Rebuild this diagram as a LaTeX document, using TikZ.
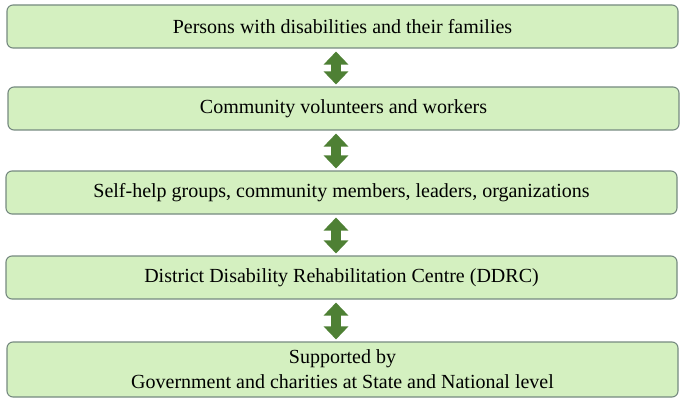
\documentclass[tikz,border=0pt]{standalone}
\usepackage{fontspec}
\setmainfont{Liberation Serif}
\usetikzlibrary{arrows.meta}
\definecolor{boxfill}{RGB}{212,240,192}
\definecolor{boxline}{RGB}{118,138,128}
\definecolor{arrgreen}{RGB}{78,128,52}
\begin{document}
\begin{tikzpicture}[x=1pt,y=1pt,
  lvl/.style={draw=boxline, fill=boxfill, line width=1.1pt, rounded corners=6pt,
    minimum width=671pt, inner sep=0pt, align=center, font=\rmfamily\fontsize{20}{25}\selectfont},
  dbl/.style={draw=arrgreen, line width=10pt,
    {Triangle[width=24pt,length=13pt]}-{Triangle[width=24pt,length=13pt]},
    shorten <=3pt, shorten >=2pt}]
\useasboundingbox (0,0) rectangle (685,-401);
\node[lvl, minimum height=43pt] (b1) at (342.5,-26.5) {Persons with disabilities and their families};
\node[lvl, minimum height=43pt] (b2) at (343.5,-108.5) {Community volunteers and workers};
\node[lvl, minimum height=43pt] (b3) at (341.5,-192.5) {Self-help groups, community members, leaders, organizations};
\node[lvl, minimum height=43pt] (b4) at (341.5,-277.5) {District Disability Rehabilitation Centre (DDRC)};
\node[lvl, minimum height=55pt] (b5) at (342.5,-369.5) {Supported by\\Government and charities at State and National level};
\draw[dbl] (b1.south -| 336,0) -- (b2.north -| 336,0);
\draw[dbl] (b2.south -| 336,0) -- (b3.north -| 336,0);
\draw[dbl] (b3.south -| 336,0) -- (b4.north -| 336,0);
\draw[dbl] (b4.south -| 336,0) -- (b5.north -| 336,0);
\end{tikzpicture}
\end{document}
